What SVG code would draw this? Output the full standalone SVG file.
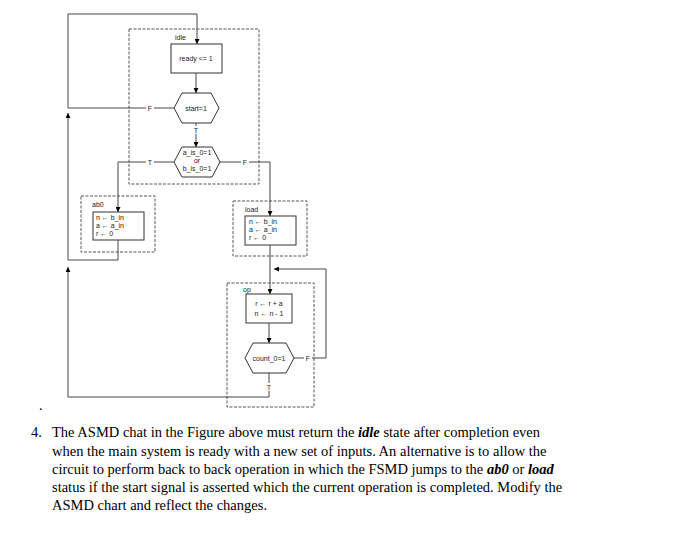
<svg xmlns="http://www.w3.org/2000/svg" width="688" height="543" viewBox="0 0 688 543">
<defs>
<marker id="ah" viewBox="0 0 10 10" refX="10" refY="5" markerWidth="5" markerHeight="5" orient="auto"><path d="M0,0L10,5L0,10z" fill="#000"/></marker>
<style>
.st{fill:none;stroke:#555;stroke-width:1;stroke-dasharray:3,1.5}
.bx{fill:#fff;stroke:#333;stroke-width:1}
.ln{fill:none;stroke:#444;stroke-width:1}
.s{font-family:"Liberation Sans",Arial,sans-serif;font-size:7px;fill:#222}
.c{text-anchor:middle}
.p{font-family:"Liberation Serif","Times New Roman",serif;font-size:14.5px;fill:#000}
</style>
</defs>
<rect width="688" height="543" fill="#fff"/>
<g id="idle"><rect class="st" x="129" y="29" width="130" height="155"/><text class="s" x="175" y="40">idle</text>
<rect class="bx" x="171" y="44" width="51" height="29"/><text class="s c" x="196" y="61">ready &lt;= 1</text>
<polygon class="bx" points="174,108 182,93 211,93 219,108 211,123 182,123"/><text class="s c" x="196" y="111">start=1</text>
<polygon class="bx" points="174,162 182,147 212,147 220,162 212,177 182,177"/><text class="s c" x="197" y="155">a_is_0=1</text><text class="s c" x="197" y="163">or</text><text class="s c" x="197" y="171">b_is_0=1</text></g>
<g id="ab0"><rect class="st" x="81" y="196" width="74" height="56"/><text class="s" x="92" y="207">ab0</text>
<rect class="bx" x="93" y="212" width="51" height="28"/><text class="s" x="96" y="220">n ← b_in</text><text class="s" x="96" y="228">a ← a_in</text><text class="s" x="96" y="236">r ← 0</text></g>
<g id="load"><rect class="st" x="233" y="201" width="74" height="55"/><text class="s" x="245" y="212">load</text>
<rect class="bx" x="245" y="216" width="51" height="29"/><text class="s" x="249" y="224">n ← b_in</text><text class="s" x="249" y="232">a ← a_in</text><text class="s" x="249" y="240">r ← 0</text></g>
<g id="op"><rect class="st" x="227" y="283" width="87" height="124"/><text class="s" x="243" y="292">op</text>
<rect class="bx" x="246" y="294" width="46" height="29"/><text class="s c" x="269" y="306">r ← r + a</text><text class="s c" x="269" y="316">n ← n - 1</text>
<polygon class="bx" points="245,358 253,343 286,343 294,358 286,373 253,373"/><text class="s c" x="269" y="361">count_0=1</text></g>
<g id="connectors">
<path class="ln" d="M174,108H68V14H197V44" marker-end="url(#ah)"/>
<path class="ln" d="M196,73V93" marker-end="url(#ah)"/>
<path class="ln" d="M196,123V147" marker-end="url(#ah)"/>
<path class="ln" d="M174,162H118V212" marker-end="url(#ah)"/>
<path class="ln" d="M220,162H270V216" marker-end="url(#ah)"/>
<path class="ln" d="M118,240V260H68V113" marker-end="url(#ah)"/>
<path class="ln" d="M270,245V294" marker-end="url(#ah)"/>
<path class="ln" d="M269,323V343" marker-end="url(#ah)"/>
<path class="ln" d="M294,358H326V269H274" marker-end="url(#ah)"/>
<path class="ln" d="M269,373V397H68V267" marker-end="url(#ah)"/>
<g class="s c"><rect x="146" y="104" width="8" height="8" fill="#fff"/><text x="150" y="111">F</text>
<rect x="193" y="126" width="7" height="8" fill="#fff"/><text x="196" y="133">T</text>
<rect x="146" y="158" width="8" height="8" fill="#fff"/><text x="150" y="165">T</text>
<rect x="241" y="158" width="8" height="8" fill="#fff"/><text x="245" y="165">F</text>
<rect x="304" y="354" width="8" height="8" fill="#fff"/><text x="308" y="361">F</text>
<rect x="266" y="383" width="7" height="8" fill="#fff"/><text x="269" y="390">T</text></g>
</g>
<text class="p" x="39" y="410" font-size="10">.</text>
<g class="p"><text x="31" y="437">4.</text>
<text x="52" y="437">The ASMD chat in the Figure above must return the <tspan font-weight="bold" font-style="italic">idle</tspan> state after completion even</text>
<text x="52" y="455.5">when the main system is ready with a new set of inputs. An alternative is to allow the</text>
<text x="52" y="474">circuit to perform back to back operation in which the FSMD jumps to the <tspan font-weight="bold" font-style="italic">ab0</tspan> or <tspan font-weight="bold" font-style="italic">load</tspan></text>
<text x="52" y="492">status if the start signal is asserted which the current operation is completed. Modify the</text>
<text x="52" y="510">ASMD chart and reflect the changes.</text></g>
</svg>
